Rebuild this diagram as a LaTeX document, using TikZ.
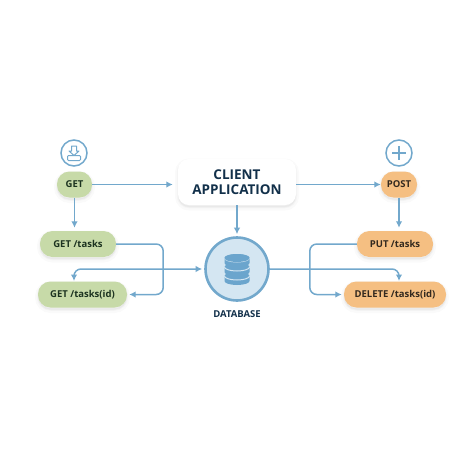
\documentclass[tikz,border=0pt]{standalone}
\usepackage{fontspec}
\usepackage{xcolor}
\usetikzlibrary{arrows.meta, positioning, calc}
\setmainfont{Open Sans}
\definecolor{LineBlue}{HTML}{72A8CC}
\definecolor{DbFill}{HTML}{D4E6F2}
\definecolor{DbIcon}{HTML}{6BA5CD}
\definecolor{SoftGreen}{HTML}{C7DAA8}
\definecolor{SoftOrange}{HTML}{F5BF82}
\definecolor{InkGreen}{HTML}{1C3320}
\definecolor{InkBrown}{HTML}{33291F}
\definecolor{InkNavy}{HTML}{12304A}
\tikzset{
  softshadow/.style={preaction={draw=black, fill=black, opacity=0.02, line width=6pt, transform canvas={yshift=-2.5pt}},
    preaction={draw=black, fill=black, opacity=0.025, line width=2.5pt, transform canvas={yshift=-2pt}}},
  pill/.style={rounded corners=12.5pt, minimum height=26pt, inner sep=0pt, font=\fontsize{9.5}{11}\selectfont\bfseries, softshadow},
  greenpill/.style={pill, fill=SoftGreen, text=InkGreen},
  orangepill/.style={pill, fill=SoftOrange, text=InkBrown},
  iconring/.style={circle, draw=LineBlue, line width=1.5pt, fill=white, minimum size=26pt, inner sep=0pt},
  link/.style={draw=LineBlue, line width=1.5pt, rounded corners=7pt, -{Latex[length=6.5pt, width=6.5pt]}}
}
\begin{document}
\begin{tikzpicture}[x=1pt, y=-1pt]
        \useasboundingbox (0,0) rectangle (474,474);

        % Left column
        \node[greenpill, minimum width=35pt] (get) at (74.5,184.5) {GET};
        \node[greenpill, minimum width=76pt] (gettasks) at (78,244) {GET /tasks};
        \node[greenpill, minimum width=89pt] (getid) at (82.5,294.5) {GET /tasks(id)};
        \node[iconring] (geticon) at (74,153) {};

        % Right column
        \node[orangepill, minimum width=36pt] (post) at (399,184.5) {POST};
        \node[orangepill, minimum width=76pt] (puttasks) at (395,244) {PUT /tasks};
        \node[orangepill, minimum width=102pt] (deleteid) at (395,294.5) {DELETE /tasks(id)};
        \node[iconring] (posticon) at (399,153) {};

        % Centre
        \node[fill=white, rounded corners=11pt, minimum width=118pt, minimum height=46pt, inner sep=0pt, align=center, text=InkNavy, font=\fontsize{13.5}{15}\selectfont\bfseries, softshadow] (client) at (237,182) {CLIENT\\APPLICATION};
        \node[circle, fill=DbFill, draw=LineBlue, line width=2.6pt, minimum size=63pt, inner sep=0pt] (db) at (237,269) {};
        \node[below=5pt of db, text=InkNavy, font=\fontsize{9.5}{11}\selectfont\bfseries] (dblabel) {DATABASE};

        % Bend points
        \coordinate (gethook) at (74,281);
        \coordinate (posthook) at (399,281);

        % Straight arrows
        \draw[link, shorten >=5pt] (get.east) -- (get.east -| client.west);
        \draw[link] (get.east -| client.east) -- (post.west);
        \draw[link, shorten >=3pt] (get) -- (gettasks.north -| get);
        \draw[link, shorten >=3pt] (post) -- (puttasks.north -| post);
        \draw[link, shorten >=2pt] (client) -- (db);

        % Bent arrows
        \draw[link, shorten >=2pt] (gettasks.east) -- ++(47,0) |- (getid.east);
        \draw[link, shorten >=2pt] (puttasks.west) -- ++(-47,0) |- (deleteid.west);
        \draw[link, {Latex[length=6.5pt, width=6.5pt]}-{Latex[length=6.5pt, width=6.5pt]}, shorten >=2pt] (gethook) |- (db.west);
        \draw[link] (db.east) -| (posthook);

        % Icons
        \draw[LineBlue, line width=1pt, line join=round] (71.5,146) -- (76.5,146) -- (76.5,151) -- (79,151) -- (74,155.5) -- (69,151) -- (71.5,151) -- cycle;
        \draw[LineBlue, line width=1pt, rounded corners=1pt] (67.5,155.5) rectangle (80.5,160.5);
        \draw[LineBlue, line width=1.5pt] (399,146) -- (399,160) (392,153) -- (406,153);

        % Database icon
        \foreach \ypos in {276,267,258} {
          \fill[DbIcon] (224.5,\ypos) -- (224.5,\ypos+5) arc[x radius=12.5, y radius=-4, start angle=180, end angle=360] -- (249.5,\ypos) -- cycle;
          \fill[DbIcon] (237,\ypos) ellipse[x radius=12.5, y radius=4];
          \draw[DbFill, line width=1pt] (224.5,\ypos) arc[x radius=12.5, y radius=-4, start angle=180, end angle=360];
        }
        \fill[DbIcon] (237,258) ellipse[x radius=12.5, y radius=4];
\end{tikzpicture}
\end{document}
